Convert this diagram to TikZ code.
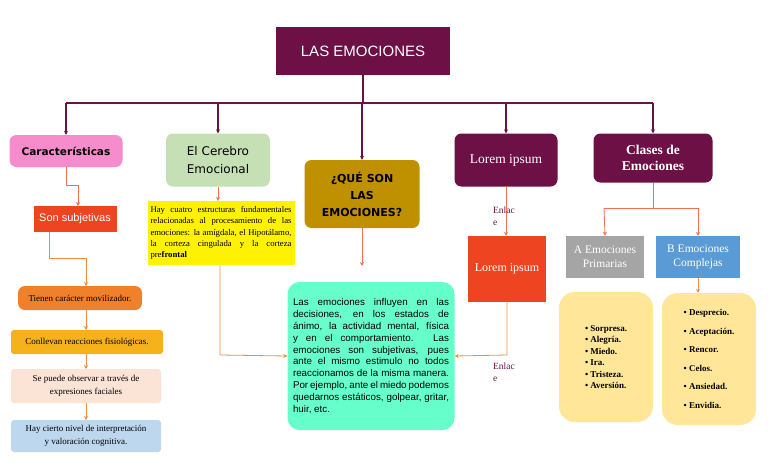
\documentclass[tikz,border=0pt]{standalone}
\usepackage{fontspec}
\setmainfont{Liberation Serif}
\newfontfamily\arialf{Liberation Sans}
\newfontfamily\comicf{DejaVu Sans}
\usetikzlibrary{arrows.meta}
\definecolor{purp}{HTML}{6D1045}
\definecolor{redb}{HTML}{EE4422}
\definecolor{orl}{HTML}{F0802A}
\definecolor{lnk}{HTML}{F07050}
\tikzset{
 box/.style={draw=none,align=center,inner sep=2pt},
 rbox/.style={box,rounded corners=7pt},
 dark/.style={draw=purp,line width=1.2pt,-{Stealth[length=4pt,width=4pt]}},
 lk/.style={draw=lnk,line width=0.8pt,-{Stealth[length=4pt,width=4pt]}},
 ol/.style={draw=orl!90,line width=0.8pt,-{Stealth[length=4pt,width=4pt]}},
}
\begin{document}
\hyphenpenalty=10000 \exhyphenpenalty=10000 \tolerance=9999 \emergencystretch=20pt
\begin{tikzpicture}[x=1pt,y=-1pt]
\useasboundingbox (0,0) rectangle (768,466);
\fill[white] (0,0) rectangle (768,466);
% nodes
\node[box,fill=purp,text=white,minimum width=174,minimum height=48,font=\arialf\fontsize{15}{17}\selectfont] (t) at (363,51) {LAS EMOCIONES};
\node[rbox,fill=magenta!45!white,minimum width=113,minimum height=32,font=\comicf\bfseries\fontsize{10.5}{12}\selectfont] (car) at (66,151) {Características};
\node[rbox,fill={rgb,255:red,197;green,224;blue,180},minimum width=104,minimum height=53,font=\comicf\fontsize{12}{18}\selectfont] (cer) at (218,160) {El Cerebro\\Emocional};
\node[rbox,fill={rgb,255:red,191;green,144;blue,0},minimum width=115,minimum height=68,font=\comicf\bfseries\fontsize{11}{17}\selectfont] (que) at (362,194) {¿QUÉ SON\\LAS\\EMOCIONES?};
\node[rbox,fill=purp,text=white,minimum width=103,minimum height=53,font=\fontsize{13.5}{15}\selectfont] (l1) at (506,160) {Lorem ipsum};
\node[rbox,fill=purp,text=white,minimum width=119,minimum height=49,font=\bfseries\fontsize{13.5}{16}\selectfont] (cl) at (653,158) {Clases de\\Emociones};
\node[box,fill=redb,text=white,minimum width=83,minimum height=26,font=\arialf\fontsize{11}{12}\selectfont] (son) at (75,219) {Son subjetivas};
\node[rbox,fill=orl,minimum width=124,minimum height=24,font=\fontsize{9}{10}\selectfont] (tie) at (80,298) {Tienen carácter movilizador.};
\node[box,rounded corners=3pt,fill={rgb,255:red,245;green,178;blue,26},minimum width=152,minimum height=24,font=\fontsize{9}{10}\selectfont] (con) at (87,342) {Conllevan reacciones fisiológicas.};
\node[box,rounded corners=3pt,fill={rgb,255:red,251;green,227;blue,214},minimum width=150,minimum height=34,font=\fontsize{9}{13}\selectfont] (se) at (86,386) {Se puede observar a través de\\expresiones faciales};
\node[box,rounded corners=3pt,fill={rgb,255:red,189;green,215;blue,238},minimum width=150,minimum height=32,font=\fontsize{9}{13}\selectfont] (hay) at (86,436) {Hay cierto nivel de interpretación\\y valoración cognitiva.};
\node[box,fill=yellow,minimum width=147,minimum height=64,text width=141,align=justify,font=\fontsize{8.7}{11.4}\selectfont] (ye) at (221,233) {Hay cuatro estructuras fundamentales relacionadas al procesamiento de las emociones: la amígdala, el Hipotálamo, la corteza cingulada y la corteza pre\textbf{frontal}};
\node[rbox,rounded corners=12pt,fill={rgb,255:red,102;green,255;blue,204},minimum width=167,minimum height=148,text width=156,align=justify,font=\arialf\fontsize{9.8}{11.8}\selectfont] (gr) at (371,356) {Las emociones influyen en las decisiones, en los estados de ánimo, la actividad mental, física y en el comportamiento. Las emociones son subjetivas, pues ante el mismo estimulo no todos reaccionamos de la misma manera. Por ejemplo, ante el miedo podemos quedarnos estáticos, golpear, gritar, huir, etc.};
\node[box,fill=redb,text=white,minimum width=78,minimum height=66,font=\fontsize{12}{14}\selectfont] (l2) at (507,269) {Lorem ipsum};
\node[box,fill={rgb,255:red,165;green,165;blue,165},text=white,minimum width=78,minimum height=42,font=\fontsize{11.5}{14}\selectfont] (a) at (605,257) {A Emociones\\Primarias};
\node[box,fill={rgb,255:red,91;green,155;blue,213},text=white,minimum width=84,minimum height=42,font=\fontsize{11.5}{14}\selectfont] (b) at (698,257) {B Emociones\\Complejas};
\node[rbox,rounded corners=16pt,fill={rgb,255:red,255;green,230;blue,153},minimum width=94,minimum height=130,font=\bfseries\fontsize{9}{11.5}\selectfont,align=left] (ya) at (606,357) {• Sorpresa.\\• Alegría.\\• Miedo.\\• Ira.\\• Tristeza.\\• Aversión.};
\node[rbox,rounded corners=16pt,fill={rgb,255:red,255;green,230;blue,153},minimum width=94,minimum height=132,font=\bfseries\fontsize{9}{18.5}\selectfont,align=left] (yb) at (709,359) {• Desprecio.\\• Aceptación.\\• Rencor.\\• Celos.\\• Ansiedad.\\• Envidia.};
% top connectors
\draw[purp,line width=1.2pt] (t.south) -- (363,103);
\draw[purp,line width=1.2pt] (66,103) -- (653,103);
\foreach \n/\x in {car/66,cer/218,que/362,l1/506,cl/653}
  \draw[dark] (\x,103) -- (\n.north);
% left chain
\draw[lk] (car.south) -- (66,185) -- (78,185) -- (78,206);
\draw[ol] (49,232) -- (49,258) -- (86,258) -- (86,286);
\draw[ol] (86,310) -- (86,330);
\draw[ol] (86,354) -- (86,369);
\draw[ol] (86,403) -- (86,420);
\draw[lk] (cer.south) -- (cer.south |- ye.north);
\draw[ol] (220,265) -- (220,355) -- (gr.west);
\draw[lk] (que.south) -- (362,266);
\draw[lk] (l1.south) -- (l1.south |- l2.north);
\node[text={rgb,255:red,110;green,16;blue,69},font=\fontsize{9.5}{12}\selectfont,align=left] (e1) at (504,216) {Enlac\\e};
\draw[ol] (l2.south) -- (507,355) -- (gr.east);
\node[text={rgb,255:red,110;green,16;blue,69},font=\fontsize{9.5}{12}\selectfont,align=left] (e2) at (504,372) {Enlac\\e};
\draw[lnk,line width=0.8pt] (cl.south) -- (653,208);
\draw[lnk,line width=0.8pt] (604,208) -- (698,208);
\draw[lk] (604,208) -- (a.north);
\draw[lk] (698,208) -- (b.north);
\draw[ol] (b.south) -- (b.south |- yb.north);
\end{tikzpicture}
\end{document}
